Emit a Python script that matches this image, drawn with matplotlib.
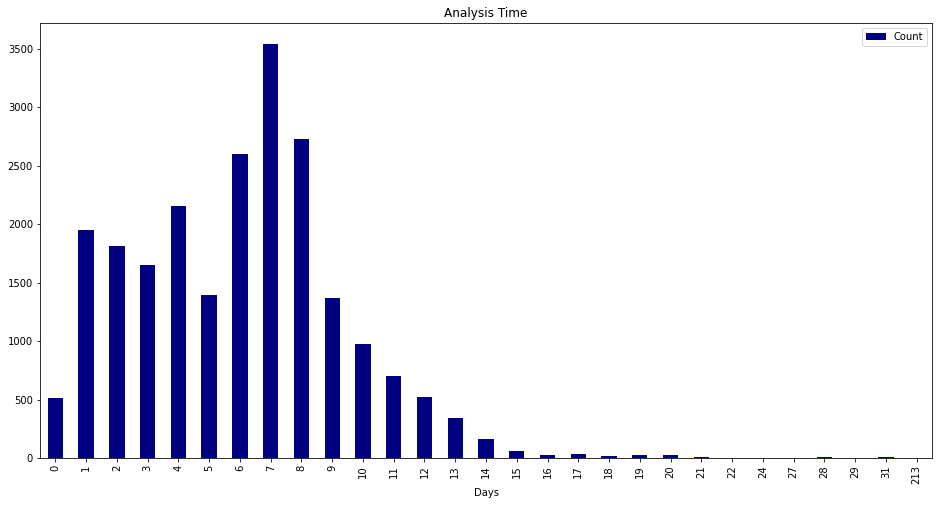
import matplotlib
matplotlib.use("Agg")
import matplotlib.pyplot as plt
import pandas as pd

# Days to analysis, with the number of cases for each
days = [0, 1, 2, 3, 4, 5, 6, 7, 8, 9, 10, 11, 12, 13, 14, 15, 16, 17, 18, 19,
        20, 21, 22, 24, 27, 28, 29, 31, 213]
counts = [512, 1952, 1815, 1652, 2158, 1397, 2603, 3545, 2731, 1372, 977, 704,
          522, 344, 163, 60, 26, 33, 16, 25, 25, 9, 2, 1, 1, 8, 1, 8, 1]

plt.rcParams['font.family'] = ['DejaVu Sans']
plt.rcParams['font.size'] = 10

df = pd.DataFrame({'Count': counts}, index=pd.Index(days, name='Days'))

fig = plt.figure(figsize=(939 / 72, 505 / 72), dpi=72)
ax = fig.add_axes([40 / 939, 1 - 458 / 505, (932 - 40) / 939, (458 - 23) / 505])
df.plot(kind='bar', color='navy', ax=ax, width=0.5)
ax.set_title('Analysis Time')
ax.set_xlabel('Days')
ax.legend(loc='upper right')

fig.savefig('out.png', dpi=72)
